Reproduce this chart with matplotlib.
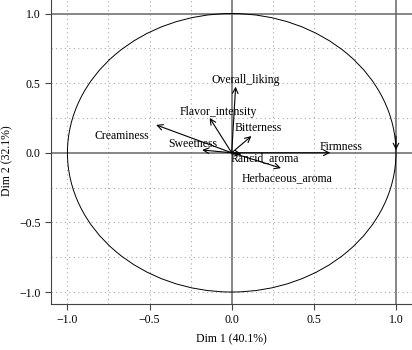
import matplotlib.pyplot as plt
from matplotlib.patches import Ellipse

# variable coordinates on the first two dimensions
variables = ["Overall_liking", "Flavor_intensity", "Bitterness", "Creaminess",
             "Sweetness", "Firmness", "Rancid_aroma", "Herbaceous_aroma"]
dim1 = [0.024, -0.134, 0.12, -0.46, -0.18, 0.60, 0.06, 0.30]
dim2 = [0.475, 0.25, 0.12, 0.20, 0.02, 0.0, -0.01, -0.11]
# label anchor points (after overlap avoidance)
lab_x = [0.085, -0.08, 0.16, -0.67, -0.24, 0.665, 0.20, 0.335]
lab_y = [0.525, 0.295, 0.18, 0.12, 0.065, 0.043, -0.036, -0.18]

plt.rcParams['font.family'] = ['Liberation Serif', 'DejaVu Serif']
fs = 8.5

fig = plt.figure(figsize=(4.12, 3.5), dpi=100)
ax = fig.add_axes([51 / 412, 46 / 350, 361.4 / 412, 304.4 / 350])
ax.set_xlim(-1.1, 1.1)
ax.set_ylim(-1.086, 1.1)

# dotted grid
grid = [-1.0, -0.75, -0.5, -0.25, 0.25, 0.5, 0.75]
for g in grid:
    ax.axvline(g, color="#aaaaaa", lw=0.8, ls=(0, (1, 3)), zorder=0)
    ax.axhline(g, color="#aaaaaa", lw=0.8, ls=(0, (1, 3)), zorder=0)
for g in [0.0, 1.0]:
    ax.axvline(g, color="#666666", lw=1.1, zorder=1)
    ax.axhline(g, color="#666666", lw=1.1, zorder=1)

ax.add_patch(Ellipse((0, 0), 2, 2, fill=False, ec="black", lw=0.7, zorder=2))

for x, y in zip(dim1, dim2):
    ax.annotate("", xy=(x, y), xytext=(0, 0),
                arrowprops=dict(arrowstyle="->", lw=0.8, color="black",
                                shrinkA=0, shrinkB=0, mutation_scale=10),
                zorder=3)
ax.annotate("", xy=(1.0, 0.02), xytext=(1.0, 0.12),
            arrowprops=dict(arrowstyle="->", lw=0.8, color="black",
                            shrinkA=0, shrinkB=0, mutation_scale=10))

for name, x, y in zip(variables, lab_x, lab_y):
    ax.text(x, y, name, ha="center", va="center", fontsize=fs, zorder=4)

ax.spines["top"].set_visible(False)
ax.spines["right"].set_visible(False)
for s in ["left", "bottom"]:
    ax.spines[s].set_color("#444444")
ax.set_xticks([-1.0, -0.5, 0.0, 0.5, 1.0])
ax.set_yticks([-1.0, -0.5, 0.0, 0.5, 1.0])
ax.set_xticklabels(["\u22121.0", "\u22120.5", "0.0", "0.5", "1.0"])
ax.set_yticklabels(["\u22121.0", "\u22120.5", "0.0", "0.5", "1.0"])
ax.tick_params(labelsize=fs, length=4, color="#444444")
ax.set_xlabel("Dim 1 (40.1%)", fontsize=fs)
ax.set_ylabel("Dim 2 (32.1%)", fontsize=fs)
ax.xaxis.set_label_coords(0.5, -0.095)
ax.yaxis.set_label_coords(-0.104, 0.47)

fig.savefig("out.png")
